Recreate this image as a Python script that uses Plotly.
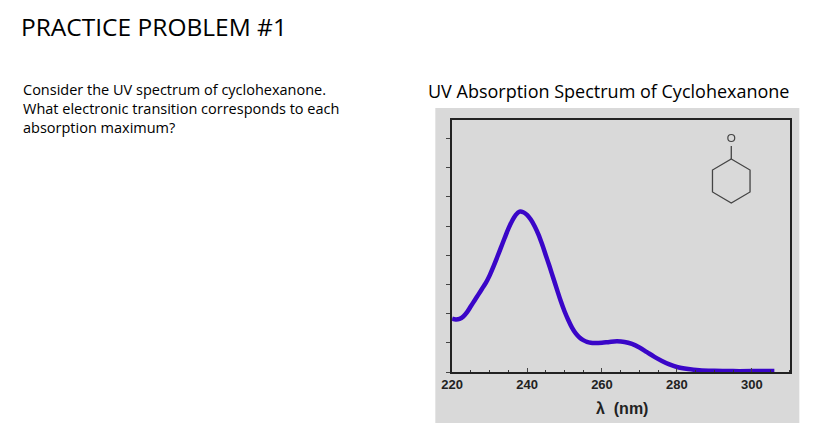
import math
import plotly.graph_objects as go

W, H = 817, 431

# spectrum (absorbance, arbitrary units)
wavelength = [220, 221, 222, 223, 224, 225, 226, 227, 228, 229, 230, 231, 232, 233, 234, 235, 236, 237, 238, 239,
              240, 241, 242, 243, 244, 245, 246, 247, 248, 249, 250, 251, 252, 253, 254, 255, 256, 257, 258, 260,
              262, 264, 266, 268, 270, 272, 274, 276, 278, 280, 283, 286, 290, 295, 300, 306]
absorbance = [1.83, 1.80, 1.82, 1.90, 2.05, 2.25, 2.45, 2.65, 2.85, 3.05, 3.30, 3.60, 3.92, 4.25, 4.58, 4.90, 5.17,
              5.38, 5.49, 5.47, 5.38, 5.22, 5.00, 4.72, 4.38, 4.00, 3.62, 3.22, 2.82, 2.43, 2.08, 1.78, 1.52, 1.32,
              1.18, 1.09, 1.03, 1.00, 0.99, 1.00, 1.03, 1.05, 1.03, 0.96, 0.84, 0.68, 0.52, 0.38, 0.26, 0.17, 0.10,
              0.06, 0.04, 0.03, 0.03, 0.03]
x_ticks = [220, 240, 260, 280, 300]

fig = go.Figure()
fig.add_trace(go.Scatter(x=wavelength, y=absorbance, mode='lines', line_shape='spline',
                         line=dict(color='#3a06c8', width=4.5), hoverinfo='skip'))

gray = '#d9d9d9'
DX, DY = -9, -8  # page offset correction


def px(x, y):
    return (x + DX) / W, 1 - (y + DY) / H


shapes = []
# gray panel behind the chart
x0, y0 = px(431, 108)
x1, y1 = px(800, 423)
shapes.append(dict(type='rect', xref='paper', yref='paper', x0=x0, y0=y1, x1=x1, y1=y0,
                   fillcolor=gray, line_width=0, layer='below'))

# cyclohexanone skeleton
cx, cy, r = 731, 181, 22
pts = [px(cx + r * math.sin(math.radians(a)), cy - r * math.cos(math.radians(a))) for a in range(0, 360, 60)]
path = 'M ' + ' L '.join(f'{a:.4f},{b:.4f}' for a, b in pts) + ' Z'
shapes.append(dict(type='path', xref='paper', yref='paper', path=path, line=dict(color='#444', width=1.3)))
ta, tb = px(cx, cy - r)
ua, ub = px(cx, 146)
shapes.append(dict(type='line', xref='paper', yref='paper', x0=ta, y0=tb, x1=ua, y1=ub, line=dict(color='#444', width=1.3)))
oa, ob = px(cx, 138)
rx, ry = 3.5 / W, 3.5 / H
shapes.append(dict(type='circle', xref='paper', yref='paper', x0=oa - rx, y0=ob - ry, x1=oa + rx, y1=ob + ry,
                   line=dict(color='#444', width=1.2)))

font = 'Open Sans'
annotations = [
    dict(text='PRACTICE PROBLEM #1', x=px(9, 26)[0], y=px(9, 26)[1], xanchor='left', yanchor='middle',
         font=dict(size=24.5, color='black', family=font)),
    dict(text='Consider the UV spectrum of cyclohexanone.<br>What electronic transition corresponds to each<br>absorption maximum?',
         x=px(11, 78)[0], y=px(11, 78)[1], xanchor='left', yanchor='top', align='left',
         font=dict(size=14.5, color='black', family=font)),
    dict(text='UV Absorption Spectrum of Cyclohexanone', x=px(607, 91)[0], y=px(607, 91)[1],
         xanchor='center', yanchor='middle', font=dict(size=18, color='black', family=font)),
    dict(text='<b>λ  (nm)</b>', x=px(620, 408)[0], y=px(620, 408)[1], xanchor='center', yanchor='middle',
         font=dict(size=16, color='#222', family='Liberation Sans')),
]
for a in annotations:
    a.update(xref='paper', yref='paper', showarrow=False)

fig.update_layout(
    width=W, height=H, margin=dict(l=0, r=0, t=0, b=0),
    paper_bgcolor='white', plot_bgcolor=gray, showlegend=False,
    shapes=shapes, annotations=annotations,
    xaxis=dict(domain=[px(448, 0)[0], px(791, 0)[0]], range=[220, 310.3], tickvals=x_ticks,
               ticktext=[f'<b>{t}</b>' for t in x_ticks], ticks='inside', ticklen=4,
               minor=dict(dtick=5, ticks='inside', ticklen=2, tickcolor='#333'),
               showgrid=False, zeroline=False, showline=True, mirror=True, linecolor='#222', linewidth=1.5,
               tickfont=dict(family='Liberation Sans', size=13, color='#222')),
    yaxis=dict(domain=[px(0, 372)[1], px(0, 120)[1]], range=[0, 8.63], dtick=1, ticks='outside', ticklen=4,
               showticklabels=False, showgrid=False, zeroline=False, showline=True, mirror=True,
               linecolor='#222', linewidth=1.5),
)

fig.write_html("out.html")
